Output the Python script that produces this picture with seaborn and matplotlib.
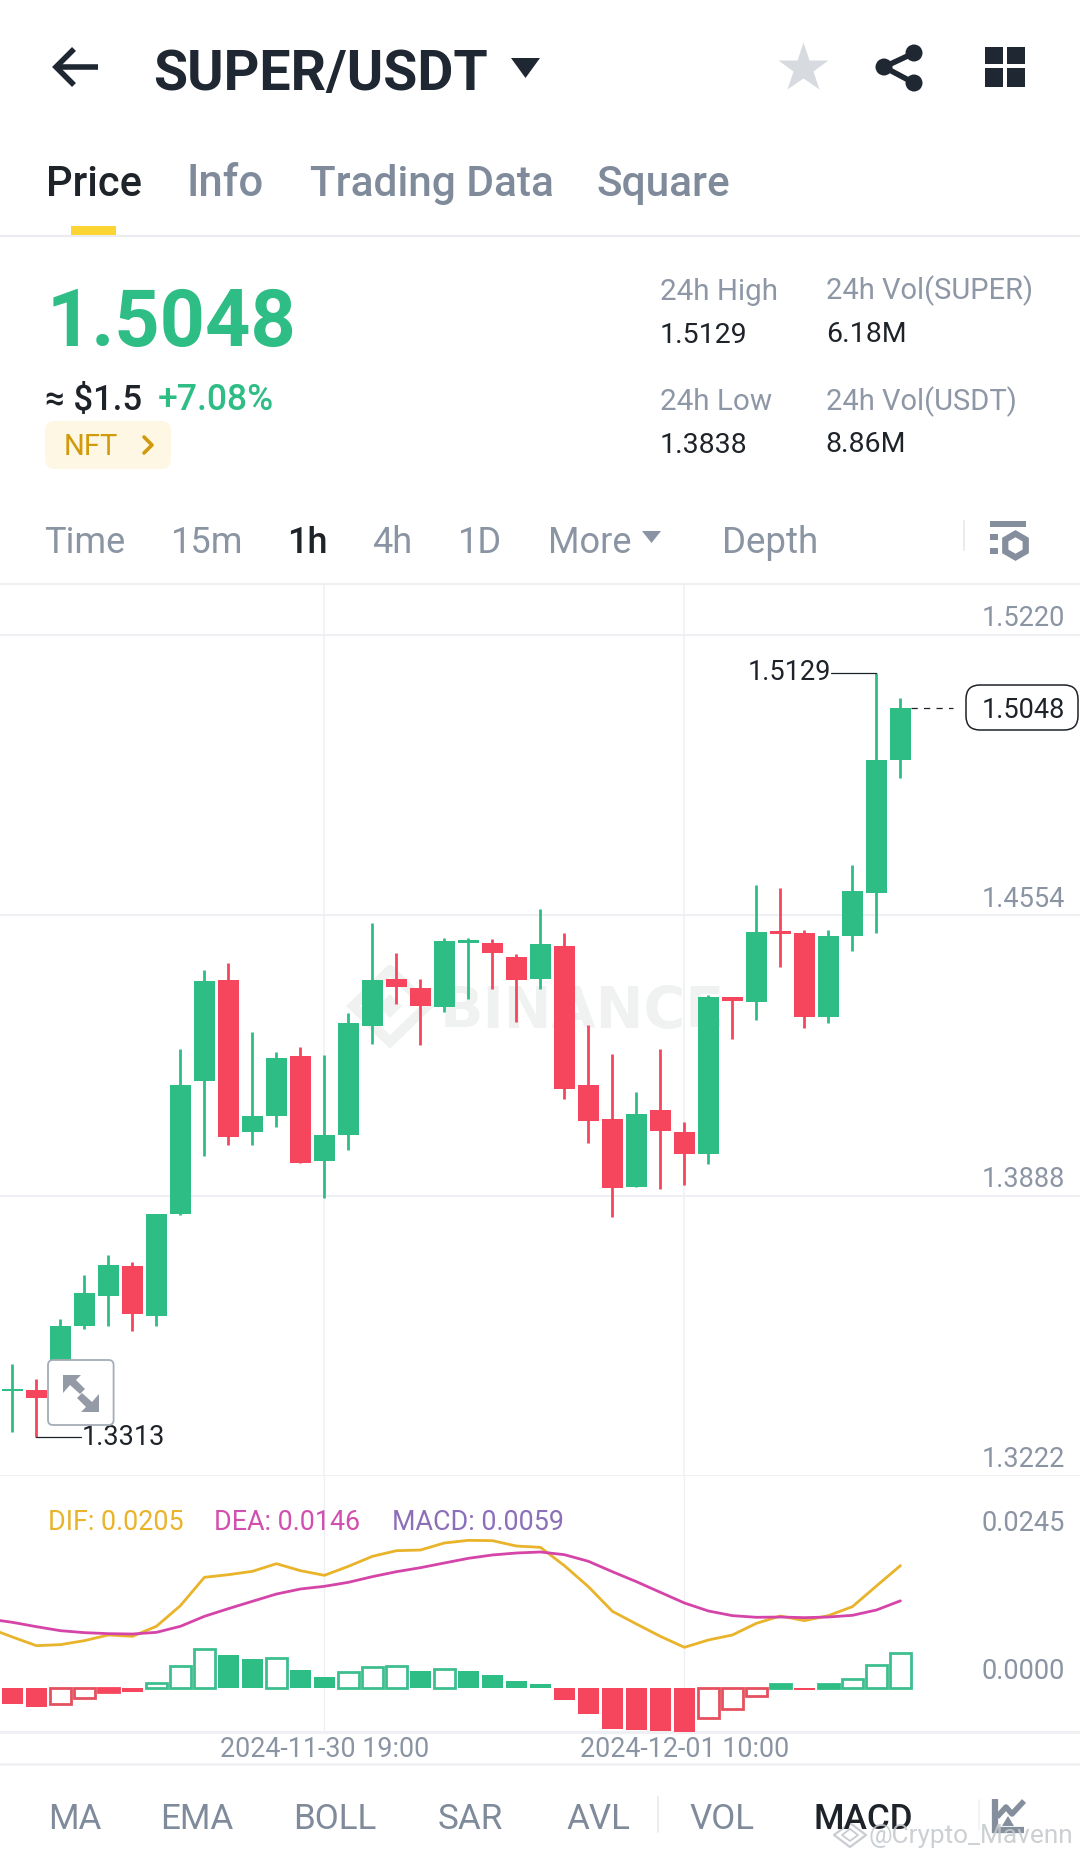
import numpy as np
import pandas as pd
import seaborn as sns
import matplotlib
matplotlib.use("Agg")
import matplotlib.pyplot as plt
from matplotlib.patches import FancyBboxPatch, Polygon, Rectangle, Circle

# ---------- data ----------
opens  = [1.3423,1.3425,1.3414,1.3578,1.3650,1.3720,1.3601,1.3843,1.4160,1.4400,1.4039,1.4078,1.4219,1.3970,1.4033,1.4291,1.4402,1.4381,1.4336,1.4489,1.4489,1.4456,1.4403,1.4482,1.4151,1.4071,1.3908,1.4092,1.4038,1.3987,1.4360,1.4347,1.4517,1.4511,1.4312,1.4504,1.4607,1.4924]
closes = [1.3429,1.3407,1.3579,1.3656,1.3724,1.3606,1.3843,1.4150,1.4398,1.4026,1.4078,1.4215,1.3965,1.4033,1.4297,1.4400,1.4383,1.4338,1.4492,1.4496,1.4464,1.4400,1.4487,1.4141,1.4066,1.3907,1.4081,1.4041,1.3987,1.4360,1.4350,1.4515,1.4510,1.4312,1.4504,1.4613,1.4924,1.5048]
highs  = [1.3487,1.3452,1.3594,1.3699,1.3746,1.3730,1.3843,1.4236,1.4425,1.4440,1.4277,1.4230,1.4240,1.4221,1.4322,1.4537,1.4465,1.4402,1.4499,1.4499,1.4498,1.4462,1.4570,1.4512,1.4294,1.4225,1.4135,1.4237,1.4062,1.4364,1.4360,1.4627,1.4619,1.4518,1.4519,1.4673,1.5129,1.5071]
lows   = [1.3325,1.3313,1.3400,1.3570,1.3578,1.3565,1.3578,1.3841,1.3983,1.4007,1.4008,1.4051,1.3965,1.3882,1.3997,1.4249,1.4344,1.4246,1.4324,1.4355,1.4378,1.4300,1.4380,1.4117,1.4014,1.3838,1.3908,1.3903,1.3912,1.3964,1.4259,1.4305,1.4432,1.4287,1.4299,1.4470,1.4513,1.4880]
hist   = [-.0026,-.0032,-.0026,-.0016,-.0006,-.0006,.0009,.0036,.0066,.0056,.0049,.0050,.0030,.0018,.0027,.0035,.0036,.0028,.0032,.0029,.0022,.0011,.0006,-.0020,-.0044,-.0068,-.0070,-.0072,-.0075,-.0051,-.0035,-.0013,.0007,-.0004,.0007,.0015,.0039,.0059]
# the two lines start one hour before the first candle and run off the left edge
dif = [.01005,.00854,.00709,.00726,.00793,.00888,.00865,.01033,.01379,.01854,.01898,.01954,.02082,.01965,.01887,.02038,.02205,.02300,.02311,.02429,.02473,.02468,.02378,.02356,.02049,.01697,.01284,.01072,.00865,.00681,.00804,.00888,.01083,.01206,.01128,.01212,.01362,.01708,.0205]
dea = [.01156,.01100,.01027,.00960,.00927,.00910,.00904,.00932,.01033,.01200,.01329,.01452,.01574,.01658,.01703,.01770,.01865,.01948,.02015,.02094,.02172,.02228,.02261,.02278,.02233,.02122,.01948,.01781,.01602,.01424,.01290,.01212,.01184,.01189,.01178,.01189,.01217,.01306,.0146]
price_ticks = [1.5220,1.4554,1.3888,1.3222]
macd_ticks = [0.0245,0.0]
date_positions = [13,28]
date_labels = ["2024-11-30 19:00","2024-12-01 10:00"]
last_price = 1.5048

GREEN="#2EBD85"; RED="#F6465D"; DARK="#1E2329"; GRAY="#848E9C"; LINE="#EEF0F3"
W,H=1080,1857

sns.set_theme(style="white")
plt.rcParams['font.family']=['Roboto','DejaVu Sans']
fig=plt.figure(figsize=(W/100,H/100),dpi=100,facecolor="white")

def pos(x0,y0,x1,y1):
    return [x0/W,1-y1/H,(x1-x0)/W,(y1-y0)/H]
def overlay(z):
    a=fig.add_axes([0,0,1,1],zorder=z); a.set_xlim(0,W); a.set_ylim(H,0); a.axis("off"); a.patch.set_alpha(0)
    return a
bg=overlay(0); ui=overlay(5)

def T(x,y,s,size,color=GRAY,weight="normal",ha="left",a=None,**k):
    (a or ui).text(x,y,s,fontsize=size,color=color,fontweight=weight,ha=ha,va="baseline",**k)

# ---------- watermark, behind the candles ----------
bg.plot([390,427,390,353,390],[970,1006,1042,1006,970],color="#F0F2F2",lw=7,solid_joinstyle="miter")
bg.add_patch(Polygon([(390,994),(402,1006),(390,1018),(378,1006)],fc="#F0F2F2",ec="none"))
T(440,1028,"BINANCE",41,"#F0F2F2","bold",a=bg,family="DejaVu Sans")

# ---------- price panel ----------
X0=12.4; STEP=24.0
ax=fig.add_axes(pos(0,584.7,W,1475.7),zorder=2); ax.patch.set_alpha(0)
ax.set_xlim(-X0/STEP,(W-X0)/STEP); ax.set_ylim(1.3222,1.5340)
idx=np.arange(len(opens))
o,c,h,l=map(np.array,(opens,closes,highs,lows))
cols=[GREEN if cc>=oo else RED for oo,cc in zip(o,c)]
for y in price_ticks: ax.axhline(y,color=LINE,lw=1.4,zorder=0)
for x in date_positions: ax.axvline(x,color=LINE,lw=1.1,zorder=0)
ax.vlines(idx,l,h,colors=cols,lw=2.0,zorder=2)
ax.bar(idx,np.abs(c-o),bottom=np.minimum(o,c),width=0.875,color=cols,linewidth=0,zorder=3)
ax.set_xticks([]); ax.set_yticks([]); sns.despine(ax=ax,left=True,bottom=True)
xr=(1065-X0)/STEP
for v in price_ticks:
    ax.annotate(f"{v:.4f}",xy=(xr,v),xytext=(0,6.3),textcoords="offset points",ha="right",va="baseline",fontsize=19.5,color="#8A94A3")
# high / low call-outs
hi=int(np.argmax(h)); lo=int(np.argmin(l))
ax.plot([hi-1.88,hi],[h[hi],h[hi]],color=DARK,lw=0.9,zorder=4)
ax.annotate(f"{h[hi]:.4f}",xy=(hi-1.88,h[hi]),xytext=(0,-5),textcoords="offset points",ha="right",va="baseline",fontsize=19.5,color=DARK)
ax.plot([lo,lo+1.85],[l[lo],l[lo]],color=DARK,lw=0.9,zorder=4)
ax.annotate(f"{l[lo]:.4f}",xy=(lo+1.88,l[lo]),xytext=(0,-5.5),textcoords="offset points",ha="left",va="baseline",fontsize=19.5,color=DARK)
# last price
ax.plot([len(o)-1+0.46,len(o)-1+2.2],[last_price]*2,color=DARK,lw=0.9,dashes=(5,5),zorder=4)
ui.add_patch(FancyBboxPatch((966,685),112,45,boxstyle="round,pad=0,rounding_size=14",fc="white",ec=DARK,lw=1.1))
T(1065,717.6,f"{last_price:.4f}",19.5,DARK,ha="right")

# ---------- MACD panel ----------
m=fig.add_axes(pos(0,1475.7,W,1732.4),zorder=2); m.patch.set_alpha(0)
m.set_xlim(-X0/STEP,(W-X0)/STEP); m.set_ylim(-0.00744,0.03556)
for x in date_positions: m.axvline(x,color=LINE,lw=1.0,zorder=0)
hv=np.array(hist)
for i,v in enumerate(hv):
    col=GREEN if v>=0 else RED
    edge="#3DBE8E" if v>=0 else "#E5505F"
    rising=i>0 and v>hv[i-1]
    if rising:
        # bars too thin to show a hollow middle read as solid
        m.bar(i,v,width=0.89,facecolor="white" if abs(v)>=0.0008 else col,edgecolor=edge if abs(v)>=0.0008 else col,linewidth=2.0,zorder=3)
    else:
        m.bar(i,v,width=0.875,color=col,linewidth=0,zorder=3)
line_x=np.arange(-1,len(dif)-1)
sns.lineplot(x=line_x,y=dif,color="#E9B32A",lw=2.0,ax=m,legend=False,estimator=None,zorder=4)
sns.lineplot(x=line_x,y=dea,color="#D544A8",lw=2.0,ax=m,legend=False,estimator=None,zorder=5)
m.set_xlim(-X0/STEP,(W-X0)/STEP)
m.set_yticks([]); m.set_ylabel("")
m.set_xticks(date_positions); m.set_xticklabels(date_labels,fontsize=19.4,color="#8A94A3")
m.tick_params(axis="x",length=0,pad=2.5)
sns.despine(ax=m,left=True,top=True,right=True,bottom=False)
m.spines["bottom"].set_color(LINE); m.spines["bottom"].set_linewidth(2.2)
for v,off in zip(macd_ticks,(8.0,6.3)):
    m.annotate(f"{v:.4f}",xy=(xr,v),xytext=(0,off),textcoords="offset points",ha="right",va="baseline",fontsize=19.5,color="#8A94A3")
T(48.5,1530.5,f"DIF: {dif[-1]:.4f}",19.4,"#E9B32A")
T(214,1530.5,f"DEA: {dea[-1]:.4f}",19.4,"#D14FAE")
T(392,1530.5,f"MACD: {hist[-1]:.4f}",19.4,"#8B6FB8")

# ---------- header ----------
def seg(xs,ys,color=DARK,lw=3,**k): ui.plot(xs,ys,color=color,lw=lw,solid_capstyle="butt",**k)
seg([56,98],[67,67],"#1E2732",4); seg([74,56,74],[49,67,85],"#1E2732",4,solid_joinstyle="miter")
T(153,90,"SUPER/USDT",40,"#1E2732",600)
ui.add_patch(Polygon([(511,58),(540,58),(525.5,78)],fc="#1E2732",ec="none"))
ui.plot([803],[68],marker="*",ms=38,color="#D7DBE0",mec="none")
for p in [(914,53),(914,83)]: seg([884,p[0]],[67,p[1]],"#1E2732",4)
for p,r in [((884,67),8.5),((914,53),8.5),((914,83),8.5)]:
    ui.add_patch(Circle(p,r,fc="#1E2732",ec="none"))
for x0,y0 in [(985,47),(1007,47),(985,68),(1007,68)]:
    ui.add_patch(Rectangle((x0,y0),18,17 if y0==47 else 19,fc="#1E2732",ec="none"))

T(46,196,"Price",30,DARK,500)
T(187,196,"Info",31.5,"#7F8A9B",500)
T(310,196,"Trading Data",30.5,"#7F8A9B",500)
T(597,196,"Square",30.5,"#7F8A9B",500)
ui.add_patch(Rectangle((71,226),45,8.5,fc="#FCD535",ec="none"))
bg.plot([0,W],[236,236],color="#EAECEF",lw=1.6)

T(46.5,346,"1.5048",57,GREEN,"bold")
T(45,410,"≈ $1.5",25,DARK,500)
T(158,410,"+7.08%",25.6,GREEN,500)
bg.add_patch(FancyBboxPatch((45,421),126,48,boxstyle="round,pad=0,rounding_size=10",fc="#FDF7E4",ec="none"))
T(64,455,"NFT",21,"#D09A0C")
ui.plot([144,152,144],[437,445,453],color="#D09A0C",lw=2.6)

T(660,300,"24h High",21.3,"#8E97A5")
T(660,343,"1.5129",20.5,DARK)
T(826,299,"24h Vol(SUPER)",21,"#8E97A5")
T(826,342,"6.18M",20.5,DARK)
T(660,410,"24h Low",21.3,"#8E97A5")
T(660,453,"1.3838",20.5,DARK)
T(826,410,"24h Vol(USDT)",21,"#8E97A5")
T(825,452,"8.86M",20.5,DARK)

T(44,553,"Time",26,"#8A94A3")
T(171,553,"15m",26,"#8A94A3")
T(287,553,"1h",26,DARK,500)
T(372,553,"4h",26,"#8A94A3")
T(458,553,"1D",26,"#8A94A3")
T(548,553,"More",26,"#8A94A3")
ui.add_patch(Polygon([(642,531),(661,531),(651.5,543)],fc="#8A94A3",ec="none"))
T(722,553,"Depth",26.5,"#8A94A3")
ui.plot([964,964],[521,550],color="#EAECEF",lw=1.5)
ui.add_patch(Rectangle((990,521),36,6,fc=GRAY,ec="none"))
ui.add_patch(Rectangle((990,534),8,6,fc=GRAY,ec="none"))
ui.add_patch(Rectangle((990,548),8,6,fc=GRAY,ec="none"))
ui.plot([1015],[545],marker="h",ms=17,mfc="white",mec=GRAY,mew=4.5)
bg.plot([0,W],[584,584],color=LINE,lw=1.6)

# ---------- expand button ----------
ui.add_patch(FancyBboxPatch((48,1360),65.6,65,boxstyle="round,pad=0,rounding_size=5",fc="white",ec="#A6ADB7",lw=1.3))
ui.add_patch(Polygon([(63,1375),(81,1375),(76,1380),(85,1389),(80,1394),(70,1385),(63,1393)],fc="#949BA6",ec="none"))
ui.add_patch(Polygon([(99,1412),(81,1412),(86,1407),(77,1398),(82,1393),(92,1402),(99,1394)],fc="#949BA6",ec="none"))

# ---------- bottom tabs ----------
bg.plot([0,W],[1764,1764],color=LINE,lw=1.8)
for x,s in [(48,"MA"),(160,"EMA"),(293,"BOLL"),(438,"SAR"),(566,"AVL"),(689,"VOL")]:
    T(x,1829,s,25.2,"#7F8A9B")
T(814,1829,"MACD",25.2,DARK,500)
ui.plot([658,658],[1797,1832],color="#EAECEF",lw=1.4)
ui.plot([979,979],[1800,1830],color="#F2F3F5",lw=1.4)
seg([995,995,1024],[1799,1830,1830],GRAY,4.5,solid_joinstyle="miter")
seg([997,1006,1012,1024],[1817,1807,1814,1801],GRAY,4)
ui.add_patch(Polygon([(1002,1826),(1008,1816),(1014,1826)],fc=GRAY,ec="none"))

# image-host watermark
ui.plot([850,866,850,834,850],[1823,1835,1847,1835,1823],color="#C9CCD0",lw=1.6)
ui.plot([850,858,850,842,850],[1829,1835,1841,1835,1829],color="#C9CCD0",lw=1.3)
T(869,1843,"@Crypto_Mavenn",18.9,"#C4C8CC",alpha=0.85)

fig.savefig("out.png",dpi=100)
